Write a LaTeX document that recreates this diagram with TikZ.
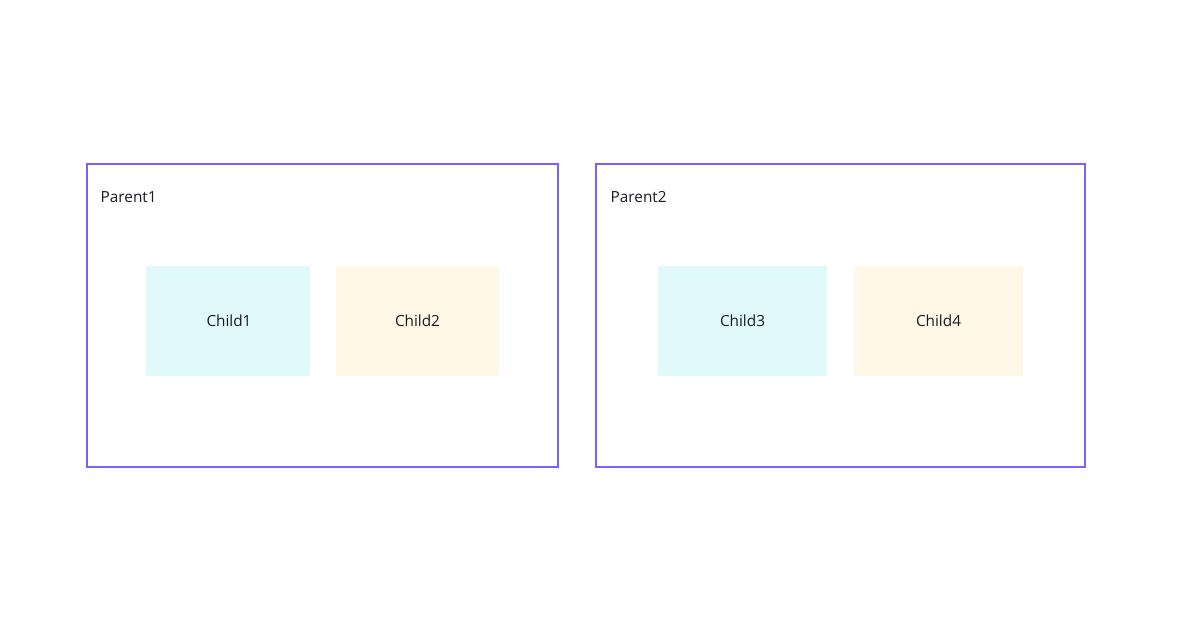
\documentclass[tikz,border=0pt]{standalone}
\usepackage{fontspec}
\setmainfont{Open Sans}
\definecolor{framecol}{HTML}{7B61FF}
\definecolor{cyanfill}{HTML}{E0F9FA}
\definecolor{creamfill}{HTML}{FFF8E7}
\definecolor{textcol}{HTML}{1A1A24}

\begin{document}
\begin{tikzpicture}[x=0.75pt,y=-0.75pt, every node/.style={text=textcol,font=\fontsize{11.5}{13}\selectfont}]
    \useasboundingbox (0,0) rectangle (1200,633);
    \draw[framecol,line width=1.6pt] (87,164) rectangle (558,467);
    \draw[framecol,line width=1.6pt] (596,164) rectangle (1085,467);
    \node[anchor=west] (parent1) at (96,197) {Parent1};
    \node[anchor=west] (parent2) at (606,197) {Parent2};
    \fill[cyanfill] (146,266) rectangle (310,376);
    \fill[creamfill] (336,266) rectangle (499,376);
    \fill[cyanfill] (658,266) rectangle (827,376);
    \fill[creamfill] (854,266) rectangle (1023,376);
    \node (child1) at (229,321) {Child1};
    \node (child2) at (417.5,321) {Child2};
    \node (child3) at (742.5,321) {Child3};
    \node (child4) at (938.5,321) {Child4};
\end{tikzpicture}
\end{document}
